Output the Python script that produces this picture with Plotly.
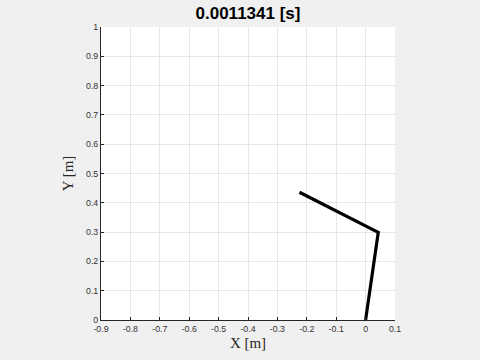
import plotly.graph_objects as go

x_pts = [0.0, 0.043, -0.225]
y_pts = [0.0, 0.299, 0.436]
x_ticks = [-0.9, -0.8, -0.7, -0.6, -0.5, -0.4, -0.3, -0.2, -0.1, 0, 0.1]
y_ticks = [0, 0.1, 0.2, 0.3, 0.4, 0.5, 0.6, 0.7, 0.8, 0.9, 1]
title_text = "0.0011341 [s]"

def lab(v):
    s = ("%g" % v)
    return s

fig = go.Figure()
fig.add_trace(go.Scatter(x=x_pts, y=y_pts, mode="lines",
                         line=dict(color="black", width=3.2), showlegend=False,
                         hoverinfo="skip"))

axis_common = dict(showgrid=True, gridcolor="#e6e6e6", gridwidth=1,
                   zeroline=False, showline=True, linecolor="#262626", linewidth=1,
                   ticks="inside", ticklen=3, tickcolor="#262626",
                   tickfont=dict(family="Liberation Sans, Arial", size=8.8, color="#333333"))

fig.update_layout(
    width=480, height=360,
    paper_bgcolor="#f0f0f0", plot_bgcolor="white",
    margin=dict(l=101, r=85, t=27, b=40),
    title=dict(text="<b>" + title_text + "</b>", x=(101 + 395) / 2 / 480, xanchor="center",
               y=1 - 13 / 360, yanchor="middle",
               font=dict(family="Liberation Sans, Arial", size=17, color="black")),
    xaxis=dict(range=[-0.9, 0.1], tickvals=x_ticks, ticktext=[lab(v) for v in x_ticks],
               title=dict(text="X [m]", standoff=4,
                          font=dict(family="Liberation Serif, Times New Roman", size=15, color="#262626")),
               **axis_common),
    yaxis=dict(range=[0, 1], tickvals=y_ticks, ticktext=[lab(v) for v in y_ticks],
               title=dict(text="Y [m]", standoff=8,
                          font=dict(family="Liberation Serif, Times New Roman", size=15, color="#262626")),
               **axis_common),
)

fig.write_html("out.html")
